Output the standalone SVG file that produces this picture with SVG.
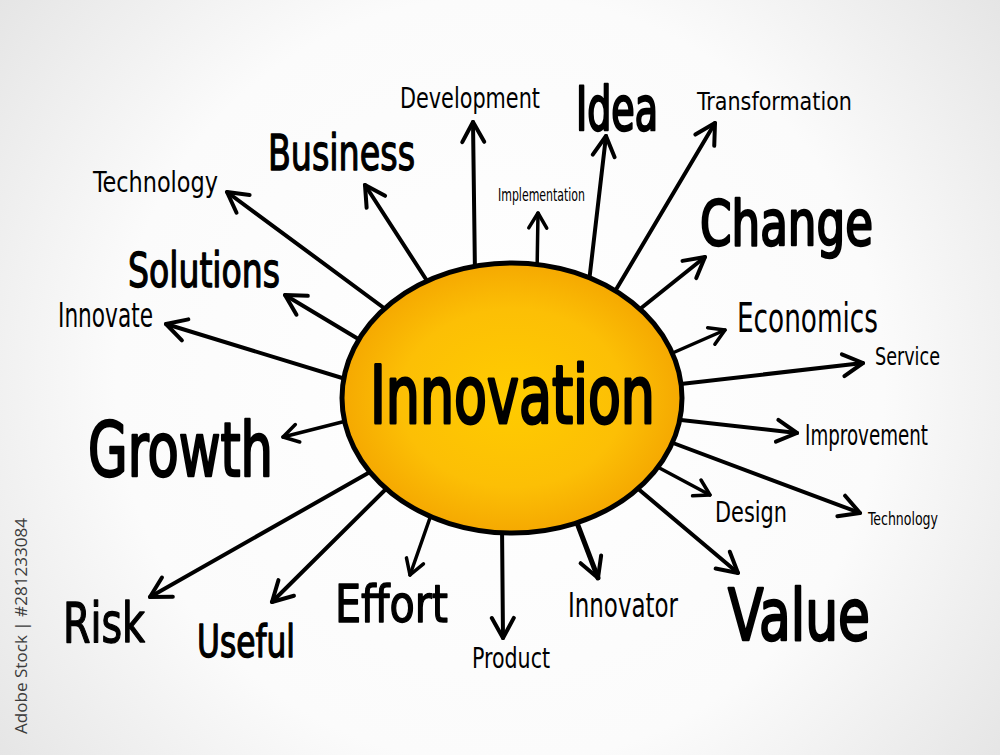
<svg xmlns="http://www.w3.org/2000/svg" width="1000" height="755" viewBox="0 0 1000 755">
<defs>
<radialGradient id="bg" cx="500" cy="380" r="640" gradientUnits="userSpaceOnUse">
<stop offset="0" stop-color="#ffffff"/>
<stop offset="0.6" stop-color="#fbfbfb"/>
<stop offset="1" stop-color="#e4e4e4"/>
</radialGradient>
<radialGradient id="sun" cx="0.5" cy="0.5" r="0.55">
<stop offset="0" stop-color="#ffcc00"/>
<stop offset="0.6" stop-color="#fcbf05"/>
<stop offset="1" stop-color="#f3a200"/>
</radialGradient>
<marker id="ah" markerUnits="userSpaceOnUse" viewBox="-30 -20 40 40" markerWidth="40" markerHeight="40" refX="0" refY="0" orient="auto" overflow="visible">
<path d="M-20,-11 L0,0 L-20,11" fill="none" stroke="#000" stroke-width="4" stroke-linecap="round" stroke-linejoin="round"/>
</marker>
<marker id="ahs" markerUnits="userSpaceOnUse" viewBox="-30 -20 40 40" markerWidth="40" markerHeight="40" refX="0" refY="0" orient="auto" overflow="visible">
<path d="M-15,-9 L0,0 L-15,9" fill="none" stroke="#000" stroke-width="3.5" stroke-linecap="round" stroke-linejoin="round"/>
</marker>
</defs>
<style>
.c line{stroke:#000;stroke-width:4;stroke-linecap:round;fill:none;marker-end:url(#ah)}
.c line.s{stroke-width:3.5;marker-end:url(#ahs)}
.t{font-family:"Liberation Sans Narrow","DejaVu Sans Condensed","Liberation Sans",sans-serif;fill:#000}
.b{stroke:#000;stroke-width:2.4;stroke-linejoin:round}
.m{stroke:#000;stroke-width:1.3;stroke-linejoin:round}
</style>
<rect width="1000" height="755" fill="url(#bg)"/>
<g id="connectors" class="c">
<line x1="475" y1="275" x2="473" y2="122"/>
<line class="s" x1="537" y1="275" x2="538" y2="213"/>
<line x1="589" y1="282" x2="606" y2="136"/>
<line x1="614" y1="293" x2="715" y2="123"/>
<line x1="640" y1="309" x2="705" y2="257"/>
<line class="s" x1="668" y1="355" x2="725" y2="330"/>
<line x1="672" y1="385" x2="863" y2="363"/>
<line x1="672" y1="419" x2="797" y2="433"/>
<line x1="665" y1="440" x2="860" y2="513"/>
<line class="s" x1="652" y1="464" x2="710" y2="495"/>
<line x1="630" y1="482" x2="738" y2="573"/>
<line x1="574" y1="515" x2="598" y2="578" style="stroke-width:5"/>
<line x1="502" y1="525" x2="503" y2="638"/>
<line class="s" x1="431" y1="515" x2="410" y2="575"/>
<line x1="388" y1="487" x2="272" y2="602"/>
<line x1="370" y1="472" x2="150" y2="597"/>
<line class="s" x1="350" y1="420" x2="283" y2="437"/>
<line x1="352" y1="381" x2="166" y2="324"/>
<line x1="365" y1="343" x2="285" y2="295"/>
<line x1="388" y1="311" x2="227" y2="192"/>
<line x1="431" y1="287" x2="365" y2="185"/>
</g>
<g id="innovation">
<ellipse cx="512" cy="398" rx="170" ry="135" fill="url(#sun)" stroke="#000" stroke-width="5"/>
<text class="t" x="370" y="423" font-size="81" textLength="285" lengthAdjust="spacingAndGlyphs" stroke="#000" stroke-width="3" stroke-linejoin="round">Innovation</text>
</g>
<g id="development"><text class="t" x="400" y="108" font-size="28" textLength="140" lengthAdjust="spacingAndGlyphs">Development</text></g>
<g id="idea"><text class="t b" x="576" y="130" font-size="60" textLength="82" lengthAdjust="spacingAndGlyphs">Idea</text></g>
<g id="transformation"><text class="t" x="697" y="110" font-size="25" textLength="155" lengthAdjust="spacingAndGlyphs">Transformation</text></g>
<g id="business"><text class="t m" x="268" y="170" font-size="50" textLength="147" lengthAdjust="spacingAndGlyphs">Business</text></g>
<g id="technology-left"><text class="t" x="93" y="192" font-size="28" textLength="125" lengthAdjust="spacingAndGlyphs">Technology</text></g>
<g id="implementation"><text class="t" x="498" y="201" font-size="17" textLength="87" lengthAdjust="spacingAndGlyphs">Implementation</text></g>
<g id="change"><text class="t b" x="700" y="245" font-size="62" textLength="173" lengthAdjust="spacingAndGlyphs">Change</text></g>
<g id="solutions"><text class="t m" x="128" y="287" font-size="48" textLength="152" lengthAdjust="spacingAndGlyphs">Solutions</text></g>
<g id="innovate"><text class="t" x="58" y="327" font-size="34" textLength="95" lengthAdjust="spacingAndGlyphs">Innovate</text></g>
<g id="economics"><text class="t" x="737" y="332" font-size="40" textLength="141" lengthAdjust="spacingAndGlyphs">Economics</text></g>
<g id="service"><text class="t" x="875" y="365" font-size="25" textLength="65" lengthAdjust="spacingAndGlyphs">Service</text></g>
<g id="growth"><text class="t b" x="88" y="476" font-size="75" textLength="185" lengthAdjust="spacingAndGlyphs">Growth</text></g>
<g id="improvement"><text class="t" x="805" y="445" font-size="28" textLength="123" lengthAdjust="spacingAndGlyphs">Improvement</text></g>
<g id="design"><text class="t" x="715" y="522" font-size="28" textLength="72" lengthAdjust="spacingAndGlyphs">Design</text></g>
<g id="technology-right"><text class="t" x="868" y="525" font-size="18" textLength="70" lengthAdjust="spacingAndGlyphs">Technology</text></g>
<g id="value"><text class="t b" x="728" y="640" font-size="72" textLength="142" lengthAdjust="spacingAndGlyphs">Value</text></g>
<g id="risk"><text class="t m" x="63" y="642" font-size="55" textLength="82" lengthAdjust="spacingAndGlyphs">Risk</text></g>
<g id="useful"><text class="t m" x="197" y="657" font-size="44" textLength="98" lengthAdjust="spacingAndGlyphs">Useful</text></g>
<g id="effort"><text class="t m" x="335" y="622" font-size="51" textLength="113" lengthAdjust="spacingAndGlyphs">Effort</text></g>
<g id="product"><text class="t" x="472" y="668" font-size="29" textLength="78" lengthAdjust="spacingAndGlyphs">Product</text></g>
<g id="innovator"><text class="t" x="568" y="617" font-size="33" textLength="110" lengthAdjust="spacingAndGlyphs">Innovator</text></g>
<text x="27" y="734" transform="rotate(-90 27 734)" font-family="'Open Sans','Noto Sans',sans-serif" font-size="15.5" fill="#3c3c3c" textLength="216" lengthAdjust="spacingAndGlyphs">Adobe Stock | #281233084</text>
</svg>
